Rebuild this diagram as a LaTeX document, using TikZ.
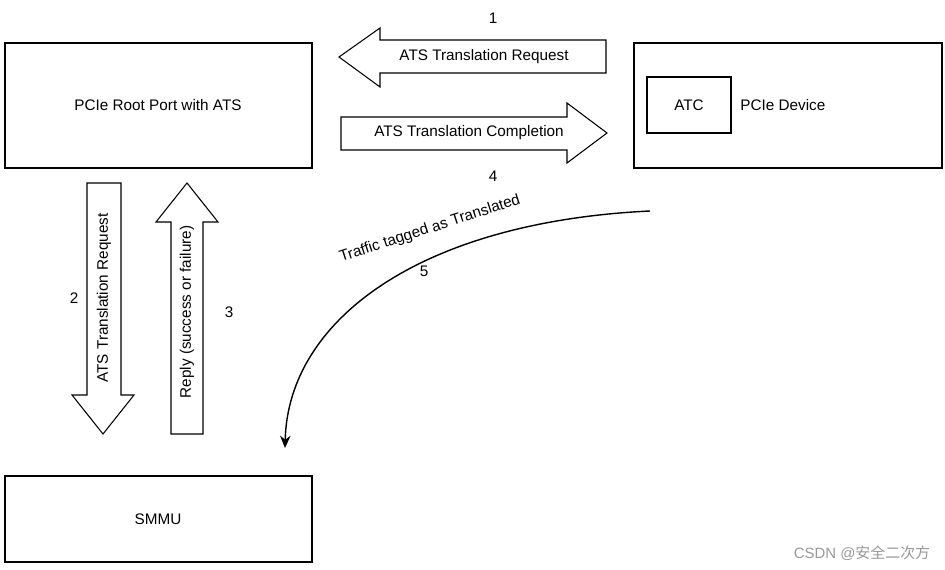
\documentclass[tikz,border=0pt]{standalone}
\usepackage{fontspec}
\setmainfont{Liberation Sans}
\newfontfamily\cjkf{Noto Sans CJK SC}
\usetikzlibrary{arrows.meta}
\begin{document}
\begin{tikzpicture}[x=0.02cm,y=-0.02cm,
  box/.style={draw,line width=0.6pt,fill=white},
  lbl/.style={font=\fontsize{8.7}{11}\selectfont,inner sep=0pt},
  fat/.style={draw,line width=0.6pt,fill=white,line join=miter}]
\useasboundingbox[fill=white] (0,0) rectangle (945,570);
% boxes
\draw[box] (5,43) rectangle (312,168);
\node[lbl] (rp) at (158,105) {PCIe Root Port with ATS};
\draw[box] (634,43) rectangle (942,168);
\draw[box] (647,77) rectangle (731,133);
\node[lbl] (atc) at (689,105) {ATC};
\node[lbl,anchor=west] (dev) at (740,105) {PCIe Device};
\draw[box] (5,476) rectangle (312,562);
\node[lbl] (smmu) at (158,519) {SMMU};
% arrow 1 (left)
\draw[fat] (339,57) -- (380,28) -- (380,40) -- (606,40) -- (606,73) -- (380,73) -- (380,87) -- cycle;
\node[lbl] (t1) at (484,57) {ATS Translation Request};
\node[lbl] (n1) at (493,18) {1};
% arrow 4 (right)
\draw[fat] (607,133) -- (567,103) -- (567,117) -- (341,117) -- (341,150) -- (567,150) -- (567,163) -- cycle;
\node[lbl] (t4) at (469,133) {ATS Translation Completion};
\node[lbl] (n4) at (493,176) {4};
% arrow 2 (down)
\draw[fat] (103,434) -- (72,395) -- (87,395) -- (87,183) -- (121,183) -- (121,395) -- (134,395) -- cycle;
\node[lbl,rotate=90] (t2) at (104,298) {ATS Translation Request};
\node[lbl] (n2) at (74,298) {2};
% arrow 3 (up)
\draw[fat] (187,183) -- (218,222) -- (203,222) -- (203,434) -- (171,434) -- (171,222) -- (156,222) -- cycle;
\node[lbl,rotate=90] (t3) at (187,312) {Reply (success or failure)};
\node[lbl] (n3) at (229,312) {3};
% curve
\coordinate (cs) at (650,211);
\coordinate (ce) at (285,448);
\draw[line width=0.8pt,-{Stealth[length=7pt,width=6pt]}] (cs) .. controls (420,222) and (288,320) .. (ce);
\node[lbl,rotate=18] (t5) at (430,229) {Traffic tagged as Translated};
\node[lbl] (n5) at (424,271) {5};
% watermark
\node[inner sep=0pt,text=black!40,font=\fontsize{8.5}{10}\selectfont] (wm) at (862,553) {CSDN @{\cjkf 安全二次方}};
\end{tikzpicture}
\end{document}
